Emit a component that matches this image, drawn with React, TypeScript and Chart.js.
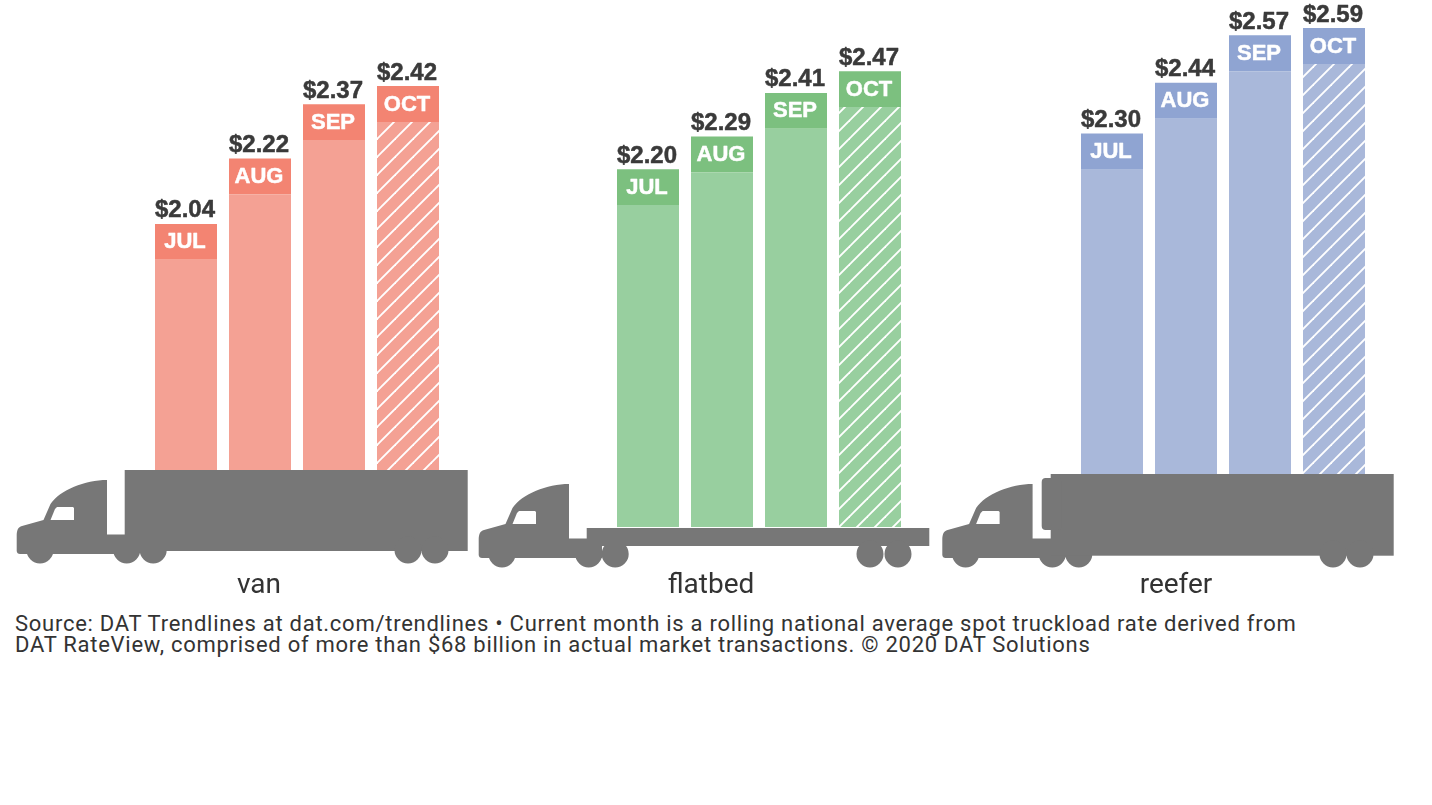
import React, { useEffect, useRef } from "react";
import { Chart, registerables } from "chart.js";

Chart.register(...registerables);

const months = ["JUL", "AUG", "SEP", "OCT"];
const vanRates = [2.04, 2.22, 2.37, 2.42];
const flatbedRates = [2.2, 2.29, 2.41, 2.47];
const reeferRates = [2.3, 2.44, 2.57, 2.59];
const sourceLines = [
  "Source: DAT Trendlines at dat.com/trendlines • Current month is a rolling national average spot truckload rate derived from",
  "DAT RateView, comprised of more than $68 billion in actual market transactions. © 2020 DAT Solutions",
];

const TRUCK = "#777777";
const CANVAS_H = 610;

function circle(ctx: CanvasRenderingContext2D, x: number, y: number, r: number) {
  ctx.moveTo(x + r, y);
  ctx.arc(x, y, r, 0, Math.PI * 2, true);
}

function drawCab(ctx: CanvasRenderingContext2D, dx: number, dy: number, backX: number) {
  ctx.save();
  ctx.translate(dx, dy);
  ctx.fillStyle = TRUCK;
  ctx.beginPath();
  ctx.moveTo(107, 480);
  ctx.bezierCurveTo(85, 480, 60, 490, 50.5, 504);
  ctx.lineTo(43.5, 520);
  ctx.lineTo(22, 526);
  ctx.bezierCurveTo(18, 527, 17, 530, 16.7, 535);
  ctx.lineTo(16.7, 551);
  ctx.quadraticCurveTo(17, 554, 20, 554);
  ctx.lineTo(backX, 554);
  ctx.lineTo(backX, 534.5);
  ctx.lineTo(107, 534.5);
  ctx.closePath();
  circle(ctx, 40, 550, 13.5);
  circle(ctx, 126.7, 550, 13.5);
  circle(ctx, 153.2, 550, 13.5);
  ctx.fill();
  ctx.fillStyle = "#ffffff";
  ctx.beginPath();
  ctx.moveTo(57, 507);
  ctx.lineTo(73, 507);
  ctx.lineTo(74, 508);
  ctx.lineTo(74, 520);
  ctx.lineTo(50.5, 520);
  ctx.lineTo(55, 509);
  ctx.closePath();
  ctx.fill();
  ctx.restore();
}

function vanTruck(ctx: CanvasRenderingContext2D) {
  drawCab(ctx, 0, 0, 130);
  ctx.fillStyle = TRUCK;
  ctx.fillRect(124.7, 470, 343, 81);
  ctx.beginPath();
  circle(ctx, 408, 550, 13.5);
  circle(ctx, 435, 550, 13.5);
  ctx.fill();
}

function flatbedTruck(ctx: CanvasRenderingContext2D) {
  drawCab(ctx, 462, 4, 140);
  ctx.fillStyle = TRUCK;
  ctx.fillRect(586.7, 528, 342.6, 18);
  ctx.beginPath();
  circle(ctx, 870, 554, 13.5);
  circle(ctx, 898, 554, 13.5);
  ctx.fill();
}

function reeferTruck(ctx: CanvasRenderingContext2D) {
  drawCab(ctx, 925.6, 4, 130);
  ctx.fillStyle = TRUCK;
  ctx.fillRect(1050.7, 474, 343, 81.7);
  ctx.beginPath();
  ctx.roundRect(1041.7, 478, 20, 52, 4);
  circle(ctx, 1333, 554, 13.5);
  circle(ctx, 1360, 554, 13.5);
  ctx.fill();
}

function hatch(base: string, phase: number) {
  const t = document.createElement("canvas");
  t.width = 18;
  t.height = 18;
  const c = t.getContext("2d")!;
  c.fillStyle = base;
  c.fillRect(0, 0, 18, 18);
  c.strokeStyle = "#ffffff";
  c.lineWidth = 1.9;
  for (let k = -1; k <= 2; k++) {
    c.beginPath();
    c.moveTo(phase + 18 * k + 2, -2);
    c.lineTo(phase + 18 * k - 20, 20);
    c.stroke();
  }
  return c.createPattern(t, "repeat")!;
}

type Spec = {
  name: string;
  rates: number[];
  band: string;
  body: string;
  left: number;
  width: number;
  padLeft: number;
  padRight: number;
  baseY: number;
  yMin: number;
  yMax: number;
  bandDepth: number;
  labelX: number;
  phase: number;
  truck: (ctx: CanvasRenderingContext2D) => void;
};

const specs: Spec[] = [
  {
    name: "van", rates: vanRates, band: "#F38472", body: "#F4A194",
    left: 0, width: 472, padLeft: 149, padRight: 27, baseY: 470,
    yMin: 1.362, yMax: 2.657, bandDepth: 0.099, labelX: 259, phase: 12, truck: vanTruck,
  },
  {
    name: "flatbed", rates: flatbedRates, band: "#7CC07F", body: "#98CF9F",
    left: 472, width: 464, padLeft: 139, padRight: 29, baseY: 527,
    yMin: 1.214, yMax: 2.666, bandDepth: 0.099, labelX: 711, phase: 12, truck: flatbedTruck,
  },
  {
    name: "reefer", rates: reeferRates, band: "#8FA4D2", body: "#A9B8DA",
    left: 936, width: 496, padLeft: 139, padRight: 61, baseY: 474,
    yMin: 1.365, yMax: 2.667, bandDepth: 0.099, labelX: 1176, phase: 12, truck: reeferTruck,
  },
];

function BarGroup({ spec }: { spec: Spec }) {
  const ref = useRef<HTMLCanvasElement>(null);
  useEffect(() => {
    const last = spec.rates.length - 1;
    const pattern = hatch(spec.body, spec.phase);
    const overlay = {
      id: "overlay",
      afterDatasetsDraw(chart: any) {
        const ctx: CanvasRenderingContext2D = chart.ctx;
        const y = chart.scales.y;
        const bars = chart.getDatasetMeta(0).data;
        ctx.save();
        ctx.translate(-spec.left, 0);
        spec.truck(ctx);
        ctx.restore();
        ctx.save();
        ctx.textAlign = "center";
        ctx.textBaseline = "alphabetic";
        ctx.lineJoin = "round";
        spec.rates.forEach((v, i) => {
          const top = y.getPixelForValue(v);
          const x = bars[i].x - 1;
          const value = "$" + v.toFixed(2);
          ctx.fillStyle = "#3a3a3a";
          ctx.strokeStyle = "#3a3a3a";
          ctx.lineWidth = 0.5;
          ctx.font = "bold 24px 'Liberation Sans'";
          ctx.fillText(value, x, top - 6.5);
          ctx.strokeText(value, x, top - 6.5);
          ctx.fillStyle = "#ffffff";
          ctx.strokeStyle = "#ffffff";
          ctx.font = "bold 22px 'Liberation Sans'";
          ctx.fillText(months[i], x, top + 24.5);
          ctx.strokeText(months[i], x, top + 24.5);
        });
        ctx.fillStyle = "#333333";
        ctx.font = "400 28px Roboto";
        ctx.fillText(spec.name, spec.labelX - spec.left, 593);
        ctx.restore();
      },
    };
    const chart = new Chart(ref.current!, {
      type: "bar",
      data: {
        labels: months,
        datasets: [
          {
            data: spec.rates.map((v) => [spec.yMin, v - spec.bandDepth]),
            backgroundColor: spec.rates.map((_, i) => (i === last ? pattern : spec.body)),
          },
          {
            data: spec.rates.map((v) => [v - spec.bandDepth, v]),
            backgroundColor: spec.band,
          },
        ] as any,
      },
      options: {
        responsive: false,
        animation: false,
        devicePixelRatio: 1,
        layout: {
          padding: { left: spec.padLeft, right: spec.padRight, top: 0, bottom: CANVAS_H - spec.baseY },
        },
        datasets: { bar: { grouped: false, barPercentage: 62 / 74, categoryPercentage: 1, borderWidth: 0 } },
        plugins: { legend: { display: false }, tooltip: { enabled: false } },
        scales: {
          x: { display: false },
          y: { display: false, min: spec.yMin, max: spec.yMax },
        },
      } as any,
      plugins: [overlay],
    });
    return () => chart.destroy();
  }, [spec]);
  return (
    <canvas
      ref={ref}
      width={spec.width}
      height={CANVAS_H}
      style={{ position: "absolute", left: spec.left, top: 0, width: spec.width, height: CANVAS_H }}
    />
  );
}

export default function App() {
  return (
    <div style={{ position: "absolute", left: 0, top: 0, width: 1432, height: 805, background: "#fff", overflow: "hidden" }}>
      {specs.map((s) => (
        <BarGroup key={s.name} spec={s} />
      ))}
      <div
        style={{
          position: "absolute",
          left: 15,
          top: 613,
          font: "400 22px/21px Roboto",
          color: "#333333",
          whiteSpace: "nowrap",
          letterSpacing: "0.73px",
        }}
      >
        {sourceLines.map((l) => (
          <div key={l}>{l}</div>
        ))}
      </div>
    </div>
  );
}
